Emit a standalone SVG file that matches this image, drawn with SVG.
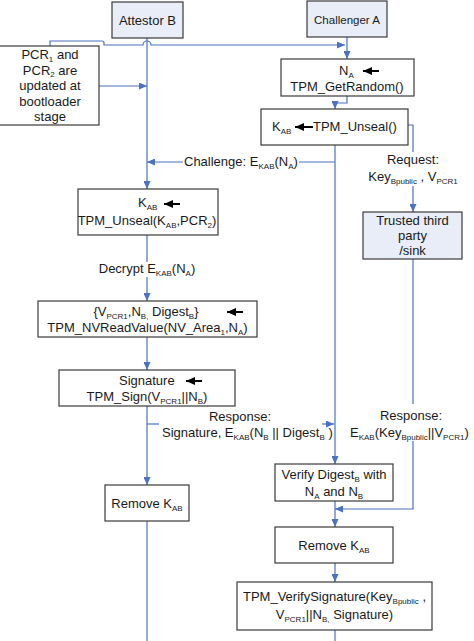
<svg xmlns="http://www.w3.org/2000/svg" width="474" height="641" viewBox="0 0 474 641">
<defs>
<style>
text{font-family:"Liberation Sans",Arial,sans-serif;font-size:13px;fill:#1a1a1a}
.m{text-anchor:middle}
.s{font-size:8px}
.box{fill:#fff;stroke:#3a3a3a;stroke-width:1.2}
.act{fill:#e8edf7;stroke:#3a3a3a;stroke-width:1.2}
.c{fill:none;stroke:#4a72c0;stroke-width:1.2}
.k{fill:none;stroke:#000;stroke-width:2}
</style>
<marker id="ab" viewBox="0 0 8 7" refX="8" refY="3.5" markerWidth="8" markerHeight="7" markerUnits="userSpaceOnUse" orient="auto"><path d="M0,0L8,3.5L0,7z" fill="#4a72c0"/></marker>
<marker id="ak" viewBox="0 0 9 8" refX="9" refY="4" markerWidth="9" markerHeight="8" markerUnits="userSpaceOnUse" orient="auto"><path d="M0,0L9,4L0,8z" fill="#000"/></marker>
</defs>

<g id="connectors">
<path class="c" d="M147,38V189" marker-end="url(#ab)"/>
<path class="c" d="M99,86H147" marker-end="url(#ab)"/>
<path class="c" d="M147,235V262"/>
<path class="c" d="M147,277V301" marker-end="url(#ab)"/>
<path class="c" d="M147,337V370" marker-end="url(#ab)"/>
<path class="c" d="M147,406V485" marker-end="url(#ab)"/>
<path class="c" d="M147,521V641"/>
<path class="c" d="M50,46V41H102Q104,41 104,43V45H143A4,4 0 0 1 151,45H345" marker-end="url(#ab)"/>
<path class="c" d="M347,37V59" marker-end="url(#ab)"/>
<path class="c" d="M347,96V103H335V109" marker-end="url(#ab)"/>
<path class="c" d="M335,145V464" marker-end="url(#ab)"/>
<path class="c" d="M335,162H299"/>
<path class="c" d="M183,162H147" marker-end="url(#ab)"/>
<path class="c" d="M147,424H159"/>
<path class="c" d="M322,424H334" marker-end="url(#ab)"/>
<path class="c" d="M335,501V527" marker-end="url(#ab)"/>
<path class="c" d="M335,563V582" marker-end="url(#ab)"/>
<path class="c" d="M335,630V641"/>
<path class="c" d="M408,125H413V152"/>
<path class="c" d="M413,186V212" marker-end="url(#ab)"/>
<path class="c" d="M413,259V404"/>
<path class="c" d="M413,441V509H335" marker-end="url(#ab)"/>
</g>

<g id="attestor">
<rect class="act" x="112" y="2" width="71" height="36"/>
<text class="m" x="147.5" y="25">Attestor B</text>
</g>

<g id="challenger">
<rect class="act" x="307" y="1" width="80" height="36"/>
<text class="m" x="347" y="24" style="font-size:11.5px">Challenger A</text>
</g>

<g id="pcr">
<rect class="box" x="-1" y="46" width="100" height="79"/>
<text class="m" x="50" y="59">PCR<tspan class="s" dy="2.5">1</tspan><tspan dy="-2.5"> and</tspan></text>
<text class="m" x="50" y="74.5">PCR<tspan class="s" dy="2.5">2</tspan><tspan dy="-2.5"> are</tspan></text>
<text class="m" x="50" y="90">updated at</text>
<text class="m" x="50" y="105.5">bootloader</text>
<text class="m" x="50" y="121">stage</text>
</g>

<g id="getrandom">
<rect class="box" x="281" y="59" width="133" height="37"/>
<text x="339" y="75">N<tspan class="s" dy="2.5">A</tspan></text>
<path class="k" d="M379,71H363" marker-end="url(#ak)"/>
<text class="m" x="347" y="91">TPM_GetRandom()</text>
</g>

<g id="unsealA">
<rect class="box" x="261" y="109" width="147" height="36"/>
<text x="272" y="131">K<tspan class="s" dy="2.5">AB</tspan></text>
<path class="k" d="M313,127H295" marker-end="url(#ak)"/>
<text x="313" y="131">TPM_Unseal()</text>
</g>

<g id="challenge-label">
<text x="184" y="166">Challenge: E<tspan class="s" dy="2.5">KAB</tspan><tspan dy="-2.5">(N</tspan><tspan class="s" dy="2.5">A</tspan><tspan dy="-2.5">)</tspan></text>
</g>

<g id="request-label">
<text class="m" x="413" y="164">Request:</text>
<text class="m" x="413" y="181">Key<tspan class="s" dy="2.5">Bpublic</tspan><tspan dy="-2.5"> , V</tspan><tspan class="s" dy="2.5">PCR1</tspan></text>
</g>

<g id="ttp">
<rect class="act" x="363" y="212" width="99" height="47"/>
<text class="m" x="412.5" y="225">Trusted third</text>
<text class="m" x="412.5" y="240">party</text>
<text class="m" x="412.5" y="255">/sink</text>
</g>

<g id="unsealB">
<rect class="box" x="78" y="189" width="140" height="46"/>
<text x="138" y="207">K<tspan class="s" dy="2.5">AB</tspan></text>
<path class="k" d="M180,204H164" marker-end="url(#ak)"/>
<text class="m" x="147" y="225">TPM_Unseal(K<tspan class="s" dy="2.5">AB</tspan><tspan dy="-2.5">,PCR</tspan><tspan class="s" dy="2.5">2</tspan><tspan dy="-2.5">)</tspan></text>
</g>

<g id="decrypt-label">
<text class="m" x="147" y="273">Decrypt E<tspan class="s" dy="2.5">KAB</tspan><tspan dy="-2.5">(N</tspan><tspan class="s" dy="2.5">A</tspan><tspan dy="-2.5">)</tspan></text>
</g>

<g id="nvread">
<rect class="box" x="38" y="301" width="219" height="36"/>
<text class="m" x="146" y="316">{V<tspan class="s" dy="2.5">PCR1</tspan><tspan dy="-2.5">,N</tspan><tspan class="s" dy="2.5">B,</tspan><tspan dy="-2.5"> Digest</tspan><tspan class="s" dy="2.5">B</tspan><tspan dy="-2.5">}</tspan></text>
<path class="k" d="M243,312H227" marker-end="url(#ak)"/>
<text class="m" x="147.5" y="332">TPM_NVReadValue(NV_Area<tspan class="s" dy="2.5">1</tspan><tspan dy="-2.5">,N</tspan><tspan class="s" dy="2.5">A</tspan><tspan dy="-2.5">)</tspan></text>
</g>

<g id="sign">
<rect class="box" x="59" y="370" width="176" height="36"/>
<text x="119" y="385">Signature</text>
<path class="k" d="M202,381H186" marker-end="url(#ak)"/>
<text class="m" x="147" y="401">TPM_Sign(V<tspan class="s" dy="2.5">PCR1</tspan><tspan dy="-2.5">||N</tspan><tspan class="s" dy="2.5">B</tspan><tspan dy="-2.5">)</tspan></text>
</g>

<g id="response-b-label">
<text class="m" x="240" y="421">Response:</text>
<text x="162" y="437">Signature, E<tspan class="s" dy="2.5">KAB</tspan><tspan dy="-2.5">(N</tspan><tspan class="s" dy="2.5">B</tspan><tspan dy="-2.5"> || Digest</tspan><tspan class="s" dy="2.5">B</tspan><tspan dy="-2.5"> )</tspan></text>
</g>

<g id="response-ttp-label">
<text class="m" x="411" y="420">Response:</text>
<text x="350" y="437">E<tspan class="s" dy="2.5">KAB</tspan><tspan dy="-2.5">(Key</tspan><tspan class="s" dy="2.5">Bpublic</tspan><tspan dy="-2.5">||V</tspan><tspan class="s" dy="2.5">PCR1</tspan><tspan dy="-2.5">)</tspan></text>
</g>

<g id="verify-digest">
<rect class="box" x="275" y="464" width="118" height="37"/>
<text class="m" x="334" y="479">Verify Digest<tspan class="s" dy="2.5">B</tspan><tspan dy="-2.5"> with</tspan></text>
<text class="m" x="334" y="496">N<tspan class="s" dy="2.5">A</tspan><tspan dy="-2.5"> and N</tspan><tspan class="s" dy="2.5">B</tspan></text>
</g>

<g id="removeB">
<rect class="box" x="105" y="485" width="84" height="36"/>
<text class="m" x="147" y="508">Remove K<tspan class="s" dy="2.5">AB</tspan></text>
</g>

<g id="removeA">
<rect class="box" x="275" y="527" width="118" height="36"/>
<text class="m" x="334" y="550">Remove K<tspan class="s" dy="2.5">AB</tspan></text>
</g>

<g id="verifysig">
<rect class="box" x="237" y="582" width="195" height="48"/>
<text class="m" x="334.5" y="601">TPM_VerifySignature(Key<tspan class="s" dy="2.5">Bpublic</tspan><tspan dy="-2.5"> ,</tspan></text>
<text class="m" x="334.5" y="619">V<tspan class="s" dy="2.5">PCR1</tspan><tspan dy="-2.5">||N</tspan><tspan class="s" dy="2.5">B,</tspan><tspan dy="-2.5"> Signature)</tspan></text>
</g>
</svg>
